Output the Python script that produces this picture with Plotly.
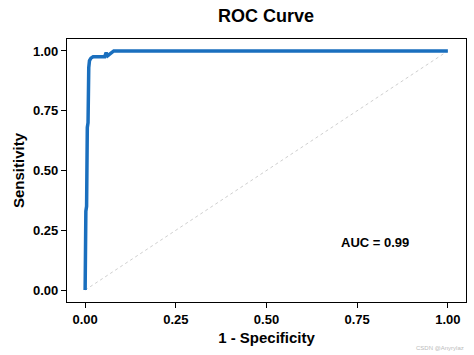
import plotly.graph_objects as go

# ROC curve points (1 - specificity, sensitivity)
fpr = [0.0, 0.0, 0.002, 0.002, 0.004, 0.004, 0.006, 0.006, 0.008, 0.008, 0.010, 0.010,
       0.012, 0.016, 0.022, 0.054, 0.058, 0.062, 0.066, 0.079, 1.0]
tpr = [0.0, 0.05, 0.10, 0.33, 0.35, 0.50, 0.52, 0.68, 0.70, 0.84, 0.86, 0.93,
       0.96, 0.970, 0.976, 0.976, 0.993, 0.980, 0.985, 1.0, 1.0]

diag_x = [0.0, 1.0]
diag_y = [0.0, 1.0]

tick_vals = [0.0, 0.25, 0.5, 0.75, 1.0]
tick_text = ["0.00", "0.25", "0.50", "0.75", "1.00"]

auc_text = "AUC = 0.99"
auc_pos = (0.8, 0.2)

FONT = "Liberation Sans, Arial, sans-serif"

fig = go.Figure()
fig.add_trace(go.Scatter(x=diag_x, y=diag_y, mode="lines",
                         line=dict(color="#CFCFCF", width=1, dash="dot"),
                         hoverinfo="skip", showlegend=False))
fig.add_trace(go.Scatter(x=fpr, y=tpr, mode="lines",
                         line=dict(color="#1A6FBE", width=3.5),
                         showlegend=False))

fig.add_annotation(x=auc_pos[0], y=auc_pos[1], text="<b>" + auc_text + "</b>",
                   showarrow=False, xref="x", yref="y",
                   font=dict(family=FONT, size=13, color="black"))

L, R, T, B = 67, 8, 39, 53
W, H = 474, 355
fig.add_annotation(x=(466 - L) / (W - L - R), y=-(348 - (H - B)) / (H - T - B),
                   xref="paper", yref="paper", text="CSDN @Anyrylaz",
                   showarrow=False, xanchor="right", yanchor="middle",
                   font=dict(family=FONT, size=6, color="#BBBBBB"))

axis_common = dict(
    tickvals=tick_vals, ticktext=tick_text,
    showgrid=False, zeroline=False, automargin=False,
    showline=True, linecolor="black", linewidth=1.3, mirror=True,
    ticks="outside", ticklen=5, tickwidth=1.3, tickcolor="black",
    tickfont=dict(family=FONT, size=13, color="black", weight="bold"),
)

fig.update_layout(
    width=W, height=H,
    margin=dict(l=L, r=R, t=T, b=B, autoexpand=False),
    paper_bgcolor="white", plot_bgcolor="white",
    title=dict(text="<b>ROC Curve</b>", x=266 / W, xanchor="center", xref="container",
               y=1 - 16 / H, yanchor="middle", yref="container", automargin=False,
               font=dict(family=FONT, size=18, color="black")),
    xaxis=dict(range=[-0.05, 1.05],
               title=dict(text="<b>1 - Specificity</b>", standoff=6,
                          font=dict(family=FONT, size=15, color="black")),
               **axis_common),
    yaxis=dict(range=[-0.05, 1.05],
               title=dict(text="<b>Sensitivity</b>", standoff=4,
                          font=dict(family=FONT, size=15, color="black")),
               **axis_common),
)

fig.write_html("out.html", config={"displayModeBar": False},
               post_script="document.body.style.margin='0';")
